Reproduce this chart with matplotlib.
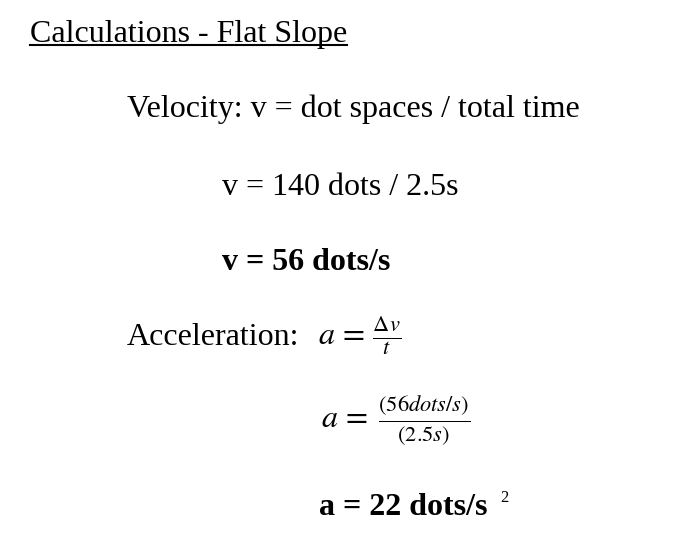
import matplotlib
matplotlib.use('Agg')
import matplotlib.pyplot as plt
from matplotlib.lines import Line2D

W, H = 678, 552

plt.rcParams['font.family'] = ['Liberation Serif', 'DejaVu Serif']
plt.rcParams['mathtext.fontset'] = 'stix'

title = 'Calculations - Flat Slope'
velocity_def = 'Velocity: v = dot spaces / total time'
velocity_calc = 'v = 140 dots / 2.5s'
velocity_result = 'v = 56 dots/s'
accel_label = 'Acceleration:'
accel_def = r'$a\,=\,\frac{\Delta v}{t}$'
accel_calc = r'$a\,=\;\frac{(56dots/s)}{(2.5s)}$'
accel_result = 'a = 22 dots/s'
accel_exp = '2'


def px(x, y):
    # pixel coords (from top-left) -> figure fraction
    return x / W, 1 - y / H


fig = plt.figure(figsize=(W / 100, H / 100), dpi=100)
fig.patch.set_facecolor('white')

size = 23

fig.text(*px(30, 42), title, fontsize=size, va='baseline')
fig.add_artist(Line2D([30 / W, 347 / W], [1 - 45 / H, 1 - 45 / H],
                      transform=fig.transFigure, color='black', lw=1.5))

fig.text(*px(127, 117), velocity_def, fontsize=size, va='baseline')
fig.text(*px(222, 195), velocity_calc, fontsize=size, va='baseline')
fig.text(*px(222, 270), velocity_result, fontsize=size, va='baseline',
         fontweight='bold')

fig.text(*px(127, 345), accel_label, fontsize=size, va='baseline')
fig.text(*px(318, 345), accel_def, fontsize=size, va='baseline')
fig.text(*px(321, 428), accel_calc, fontsize=size, va='baseline')

fig.text(*px(319, 515), accel_result, fontsize=size, va='baseline',
         fontweight='bold')
fig.text(*px(500, 502), accel_exp, fontsize=12, va='baseline')

fig.savefig('out.png', dpi=100)
